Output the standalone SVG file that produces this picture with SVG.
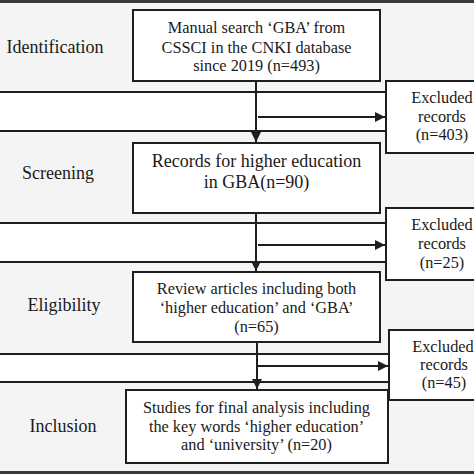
<svg xmlns="http://www.w3.org/2000/svg" width="474" height="474" viewBox="0 0 474 474">
<style>
.box{fill:#fff;stroke:#1e1e1e;stroke-width:2}
.div{stroke:#1e1e1e;stroke-width:2;fill:none}
.con{stroke:#1e1e1e;stroke-width:2;fill:none}
.band{fill:#f4f4f4}
text{font-family:"Liberation Serif","Times New Roman",serif;fill:#1a1a1a;text-anchor:middle}
.stage{font-size:18px}
.t{font-size:16.3px}
.t2{font-size:18px}
</style>
<defs>
<marker id="ah" markerUnits="userSpaceOnUse" markerWidth="11" markerHeight="11" refX="10" refY="5" orient="auto">
<path d="M0,0 L10,5 L0,10 z" fill="#1e1e1e"/>
</marker>
</defs>
<rect x="0" y="0" width="474" height="474" fill="#fff"/>
<g id="bands">
<rect class="band" x="0" y="3" width="474" height="89"/>
<rect class="band" x="0" y="131" width="474" height="92"/>
<rect class="band" x="0" y="262" width="474" height="92"/>
<rect class="band" x="0" y="382" width="474" height="89"/>
<rect x="0" y="0" width="474" height="3" fill="#3a3a3a"/>
<rect x="0" y="471" width="474" height="3" fill="#3a3a3a"/>
</g>
<g id="dividers">
<line class="div" x1="0" y1="92" x2="386" y2="92"/>
<line class="div" x1="0" y1="131" x2="386" y2="131"/>
<line class="div" x1="0" y1="223" x2="386" y2="223"/>
<line class="div" x1="0" y1="262" x2="386" y2="262"/>
<line class="div" x1="0" y1="354" x2="389" y2="354"/>
<line class="div" x1="0" y1="382" x2="389" y2="382"/>
</g>
<g id="stage-identification"><text class="stage" x="55" y="53">Identification</text></g>
<g id="stage-screening"><text class="stage" x="58" y="179">Screening</text></g>
<g id="stage-eligibility"><text class="stage" x="64" y="311">Eligibility</text></g>
<g id="stage-inclusion"><text class="stage" x="63" y="432">Inclusion</text></g>
<g id="connectors">
<line class="con" x1="256" y1="81" x2="256" y2="142" marker-end="url(#ah)"/>
<line class="con" x1="258" y1="117" x2="385" y2="117" marker-end="url(#ah)"/>
<line class="con" x1="256" y1="213" x2="256" y2="271" marker-end="url(#ah)"/>
<line class="con" x1="258" y1="245" x2="385" y2="245" marker-end="url(#ah)"/>
<line class="con" x1="257" y1="342" x2="257" y2="389" marker-end="url(#ah)"/>
<line class="con" x1="258" y1="366" x2="388" y2="366" marker-end="url(#ah)"/>
</g>
<g id="n1">
<rect class="box" x="133" y="10" width="247" height="71"/>
<text class="t" x="256.5" y="33">Manual search ‘GBA’ from</text>
<text class="t" x="256.5" y="52.5">CSSCI in the CNKI database</text>
<text class="t" x="256.5" y="71">since 2019 (n=493)</text>
</g>
<g id="x1">
<rect class="box" x="386" y="81" width="110" height="72"/>
<text class="t" x="442" y="103">Excluded</text>
<text class="t" x="442" y="122">records</text>
<text class="t" x="442" y="140">(n=403)</text>
</g>
<g id="n2">
<rect class="box" x="133" y="143" width="247" height="70"/>
<text class="t2" x="256.5" y="167">Records for higher education</text>
<text class="t2" x="256.5" y="188">in GBA(n=90)</text>
</g>
<g id="x2">
<rect class="box" x="386" y="208" width="110" height="72"/>
<text class="t" x="442" y="230">Excluded</text>
<text class="t" x="442" y="249">records</text>
<text class="t" x="442" y="268">(n=25)</text>
</g>
<g id="n3">
<rect class="box" x="133" y="272" width="247" height="70"/>
<text class="t" x="256.5" y="294">Review articles including both</text>
<text class="t" x="256.5" y="313">‘higher education’ and ‘GBA’</text>
<text class="t" x="256.5" y="332">(n=65)</text>
</g>
<g id="x3">
<rect class="box" x="389" y="330" width="110" height="70"/>
<text class="t" x="443" y="352">Excluded</text>
<text class="t" x="444" y="370">records</text>
<text class="t" x="444" y="388">(n=45)</text>
</g>
<g id="n4">
<rect class="box" x="126" y="390" width="262" height="73"/>
<text class="t" x="256.5" y="413">Studies for final analysis including</text>
<text class="t" x="256.5" y="432">the key words ‘higher education’</text>
<text class="t" x="256.5" y="450">and ‘university’ (n=20)</text>
</g>
</svg>
